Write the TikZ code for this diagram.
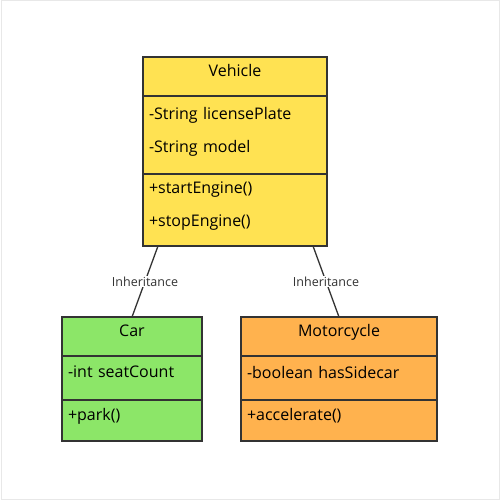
\documentclass[tikz,border=0pt]{standalone}
\usepackage{fontspec}
\setmainfont{Open Sans}
\usetikzlibrary{positioning}

\definecolor{vehiclefill}{RGB}{255,226,82}
\definecolor{carfill}{RGB}{140,230,104}
\definecolor{motofill}{RGB}{255,178,78}
\definecolor{umlline}{RGB}{51,51,51}
\definecolor{framegray}{RGB}{232,232,232}

\tikzset{
	classpart/.style={draw=umlline, line width=1.3pt, outer sep=0pt,
		inner ysep=0pt, inner xsep=6pt, text depth=12pt,
		font=\fontsize{16}{33}\selectfont},
	classhead/.style={classpart, align=center},
	classbody/.style={classpart, align=left},
	twolines/.style={text depth=44pt},
	inherit/.style={draw=umlline, line width=1.3pt},
	edgelabel/.style={fill=white, inner sep=1pt, font=\fontsize{12.5}{14}\selectfont, text=umlline}
}

\begin{document}
\begin{tikzpicture}[x=1pt,y=-1pt]
	\useasboundingbox (0,0) rectangle (500,500);
	\draw[framegray, line width=1pt] (1,1) rectangle (499,499);

	% Vehicle
	\node[classhead, fill=vehiclefill, minimum width=184pt, minimum height=39pt, anchor=north west] (vehicle) at (143,57) {Vehicle};
	\node[classbody, twolines, fill=vehiclefill, text width=172pt, minimum height=78pt, below=0pt of vehicle] (vehicleattr) {-String licensePlate\\-String model};
	\node[classbody, twolines, fill=vehiclefill, text width=172pt, minimum height=72pt, below=0pt of vehicleattr] (vehicleops) {+startEngine()\\+stopEngine()};

	% Car
	\node[classhead, fill=carfill, minimum width=140pt, minimum height=39pt, anchor=north west] (car) at (62,317) {Car};
	\node[classbody, fill=carfill, text width=128pt, minimum height=44pt, below=0pt of car] (carattr) {-int seatCount};
	\node[classbody, fill=carfill, text width=128pt, minimum height=41pt, below=0pt of carattr] (carops) {+park()};

	% Motorcycle
	\node[classhead, fill=motofill, minimum width=196pt, minimum height=39pt, anchor=north west] (moto) at (241,317) {Motorcycle};
	\node[classbody, fill=motofill, text width=184pt, minimum height=44pt, below=0pt of moto] (motoattr) {-boolean hasSidecar};
	\node[classbody, fill=motofill, text width=184pt, minimum height=41pt, below=0pt of motoattr] (motoops) {+accelerate()};

	% inheritance links
	\draw[inherit] ([xshift=15pt]vehicleops.south west) -- node[edgelabel] (carlink) {Inheritance} (car.north);
	\draw[inherit] ([xshift=-14pt]vehicleops.south east) -- node[edgelabel] (motolink) {Inheritance} (moto.north);
\end{tikzpicture}
\end{document}
